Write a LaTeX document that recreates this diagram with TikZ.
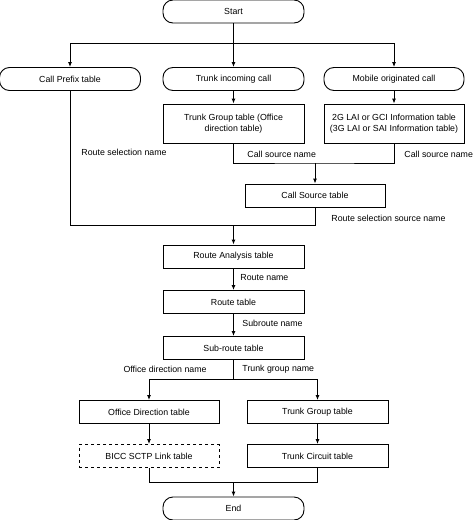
\documentclass[tikz,border=0pt]{standalone}
\usepackage{fontspec}
\setmainfont{Liberation Sans}
\usetikzlibrary{arrows.meta}
\tikzset{
  terminal/.style={draw, rounded corners=10pt, minimum width=141, minimum height=23, inner sep=1pt},
  tablebox/.style={draw, minimum width=141, minimum height=23, inner sep=1pt, align=center},
  dashbox/.style={tablebox, dashed},
  lbl/.style={inner sep=0pt, anchor=west},
  flow/.style={-{Latex[length=5pt,width=4pt]}},
}

\begin{document}
\begin{tikzpicture}[x=1pt, y=-1pt, line width=0.9pt, font=\fontsize{8.8}{10.5}\selectfont]
  \useasboundingbox (0,0) rectangle (474,520);
  % terminals and tables
  \node[terminal] (start)    at (233.5,11.5)  {Start};
  \node[terminal] (prefix)   at (70,79)       {Call Prefix table};
  \node[terminal] (trunkin)  at (233.5,79)    {Trunk incoming call};
  \node[terminal, minimum width=140] (mobile) at (394,79) {Mobile originated call};
  \node[tablebox, minimum height=39] (tgroup) at (233.5,123.5) {Trunk Group table (Office\\direction table)};
  \node[tablebox, minimum width=140, minimum height=39] (lai) at (394,123.5) {2G LAI or GCI Information table\\(3G LAI or SAI Information table)};
  \node[tablebox, minimum width=140] (callsrc) at (315,195.5) {Call Source table};
  \node[tablebox] (analysis) at (233.5,256.5) {Route Analysis table};
  \node[tablebox] (route)    at (233.5,302)   {Route table};
  \node[tablebox] (subroute) at (233.5,348)   {Sub-route table};
  \node[tablebox, minimum width=140] (office)  at (149,412)   {Office Direction table};
  \node[tablebox] (tgtable)  at (317.5,412)   {Trunk Group table};
  \node[dashbox, minimum width=140] (bicc)    at (149,456)   {BICC SCTP Link table};
  \node[tablebox] (circuit)  at (317.5,456)   {Trunk Circuit table};
  \node[terminal] (end)      at (233.5,508.5) {End};
  % junctions
  \coordinate (split)   at (233.5,43);
  \coordinate (srcjoin) at (315,163);
  \coordinate (merge)   at (233.5,225);
  \coordinate (fork)    at (233.5,379);
  \coordinate (join)    at (233.5,482);
  % connectors
  \draw (start) -- (split);
  \draw[flow] (split) -| (prefix);
  \draw[flow] (split) -- (trunkin);
  \draw[flow] (split) -| (mobile);
  \draw[flow] (trunkin) -- (tgroup);
  \draw[flow] (mobile) -- (lai);
  \draw (tgroup.south) |- (srcjoin) -| (lai.south);
  \draw[flow] (srcjoin) -- (callsrc);
  \draw (prefix.south) |- (merge);
  \draw (callsrc.south) |- (merge);
  \draw[flow] (merge) -- (analysis);
  \draw[flow] (analysis) -- (route);
  \draw[flow] (route) -- (subroute);
  \draw (subroute) -- (fork);
  \draw[flow] (fork) -| (office);
  \draw[flow] (fork) -| (tgtable);
  \draw[flow] (office) -- (bicc);
  \draw[flow] (tgtable) -- (circuit);
  \draw (bicc.south) |- (join);
  \draw (circuit.south) |- (join);
  \draw[flow] (join) -- (end);
  % labels
  \node[lbl] at (81,152)  {Route selection name};
  \node[lbl] at (247,154) {Call source name};
  \node[lbl] at (404,154) {Call source name};
  \node[lbl] at (331,218) {Route selection source name};
  \node[lbl] at (240,278) {Route name};
  \node[lbl] at (242,323) {Subroute name};
  \node[lbl, anchor=east] at (207,369) {Office direction name};
  \node[lbl] at (242,369) {Trunk group name};
\end{tikzpicture}
\end{document}
